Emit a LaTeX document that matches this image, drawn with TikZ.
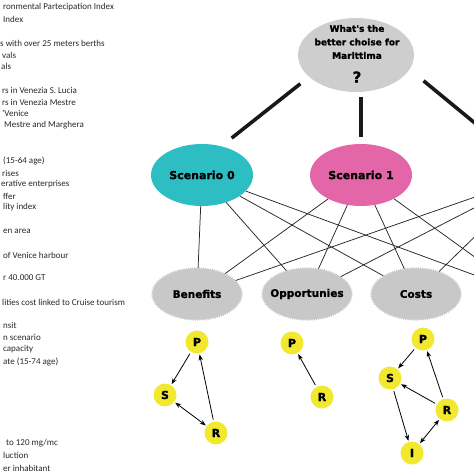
\documentclass[tikz,border=0pt]{standalone}
\usepackage{fontspec}
\setmainfont{Carlito}
\newfontfamily\heavyfont[BoldFeatures={FakeBold=1.3}]{DejaVu Sans}
\usetikzlibrary{shapes.geometric,decorations.pathmorphing,arrows.meta}

\definecolor{goalgray}{RGB}{206,206,206}
\definecolor{critgray}{RGB}{200,200,200}
\definecolor{scenteal}{RGB}{45,190,196}
\definecolor{scenpink}{RGB}{226,102,168}
\definecolor{pnodeyellow}{RGB}{242,232,48}
\definecolor{listink}{RGB}{40,40,40}

\tikzset{
    indicator/.style={anchor=west, inner sep=0pt, text=listink, font=\fontsize{9}{11}\selectfont},
    goal/.style={ellipse, fill=goalgray, minimum width=116, minimum height=74, inner sep=0pt},
    goaltext/.style={align=center, inner sep=0pt, font=\heavyfont\bfseries\fontsize{9}{13.5}\selectfont},
    scenario/.style={ellipse, minimum width=102, minimum height=62, inner sep=0pt, font=\heavyfont\bfseries\fontsize{11}{13}\selectfont},
    criterion/.style={ellipse, fill=critgray, minimum width=90, minimum height=52, inner sep=-8pt,
        decorate, decoration={zigzag, segment length=2.2pt, amplitude=0.9pt},
        font=\heavyfont\bfseries\fontsize{10.5}{12}\selectfont},
    pnode/.style={circle, fill=pnodeyellow, minimum size=23, inner sep=0pt, font=\heavyfont\bfseries\fontsize{11}{12}\selectfont},
    goallink/.style={line width=3.6pt, black!90},
    critlink/.style={line width=0.75pt, black!85},
    pairlink/.style={line width=0.8pt, -{Stealth[length=6pt,width=4.5pt]}, shorten >=1pt, shorten <=2pt}
}

\begin{document}
\begin{tikzpicture}[x=1pt, y=-1pt]
\useasboundingbox (0,0) rectangle (474,474);
\clip (0,0) rectangle (474,474);

% indicator list, cut at the left edge
\node[indicator] (ind1) at (3,7) {ronmental Partecipation Index};
\node[indicator] (ind2) at (3,19) {Index};
\node[indicator] (ind3) at (0,43) {s with over 25 meters berths};
\node[indicator] (ind4) at (2,55) {vals};
\node[indicator] (ind5) at (1,66) {als};
\node[indicator] (ind6) at (2,90) {rs in Venezia S. Lucia};
\node[indicator] (ind7) at (2,102) {rs in Venezia Mestre};
\node[indicator] (ind8) at (2,113) {’Venice};
\node[indicator] (ind9) at (4,125) {Mestre and Marghera};
\node[indicator] (ind10) at (3,161) {(15-64 age)};
\node[indicator] (ind11) at (2,173) {rises};
\node[indicator] (ind12) at (1,184) {erative enterprises};
\node[indicator] (ind13) at (3,196) {ffer};
\node[indicator] (ind14) at (3,207) {lity index};
\node[indicator] (ind15) at (3,231) {en area};
\node[indicator] (ind16) at (3,255) {of Venice harbour};
\node[indicator] (ind17) at (3,278) {r 40.000 GT};
\node[indicator] (ind18) at (2,302) {lities cost linked to Cruise tourism};
\node[indicator] (ind19) at (3,325) {nsit};
\node[indicator] (ind20) at (3,337) {n scenario};
\node[indicator] (ind21) at (3,349) {capacity};
\node[indicator] (ind22) at (3,362) {ate (15-74 age)};
\node[indicator] (ind23) at (6,443) {to 120 mg/mc};
\node[indicator] (ind24) at (3,455) {luction};
\node[indicator] (ind25) at (3,468) {er inhabitant};

% goal
\node[goal] (goal) at (356,55) {};
\node[goaltext] (goaltext) at (357,42) {What's the\\better choise for\\Marittima};
\node[goaltext, font=\heavyfont\bfseries\fontsize{15}{15}\selectfont] (goalmark) at (357,77) {?};

% scenarios
\node[scenario, fill=scenteal] (sc0) at (202,175) {Scenario 0};
\node[scenario, fill=scenpink] (sc1) at (361,175) {Scenario 1};
\coordinate (sc2) at (538,175);

% criteria
\node[criterion] (benefits) at (197,294) {Benefits};
\node[criterion] (opport) at (307,294) {Opportunies};
\node[criterion] (costs) at (416,294) {Costs};
\coordinate (risks) at (526,294);

\draw[goallink, shorten <=11pt, shorten >=13pt] (goal.205) -- (sc0.56);
\draw[goallink, shorten <=5pt, shorten >=7pt] (sc1.north |- goal.south) -- (sc1.north);
\draw[goallink, shorten <=18pt] (goal.345) -- (sc2);

\draw[critlink] (sc0) -- (benefits);
\draw[critlink] (sc0) -- (opport);
\draw[critlink] (sc0) -- (costs);
\draw[critlink] (sc0) -- (risks);
\draw[critlink] (sc1) -- (benefits);
\draw[critlink] (sc1) -- (opport);
\draw[critlink] (sc1) -- (costs);
\draw[critlink] (sc1) -- (risks);
\draw[critlink] (sc2) -- (benefits);
\draw[critlink] (sc2) -- (opport);
\draw[critlink] (sc2) -- (costs);

% benefits
\node[pnode] (benP) at (197,342) {P};
\node[pnode] (benS) at (165,395) {S};
\node[pnode] (benR) at (216,433) {R};
\draw[pairlink] (benP) -- (benS);
\draw[pairlink] (benR) -- (benP);
\draw[pairlink, {Stealth[length=6pt,width=4.5pt]}-{Stealth[length=6pt,width=4.5pt]}, shorten <=1pt] (benS) -- (benR);

% opportunities
\node[pnode] (oppP) at (292,343) {P};
\node[pnode] (oppR) at (322,397) {R};
\draw[pairlink] (oppR) -- (oppP);

% costs
\node[pnode] (cosP) at (423,339) {P};
\node[pnode] (cosS) at (390,378) {S};
\node[pnode] (cosR) at (447,410) {R};
\node[pnode] (cosI) at (412,453) {I};
\draw[pairlink] (cosP) -- (cosS);
\draw[pairlink] (cosR) -- (cosP);
\draw[pairlink] (cosR) -- (cosS);
\draw[pairlink] (cosS) -- (cosI);
\draw[pairlink, {Stealth[length=6pt,width=4.5pt]}-{Stealth[length=6pt,width=4.5pt]}, shorten <=1pt] (cosI) -- (cosR);
\end{tikzpicture}
\end{document}
